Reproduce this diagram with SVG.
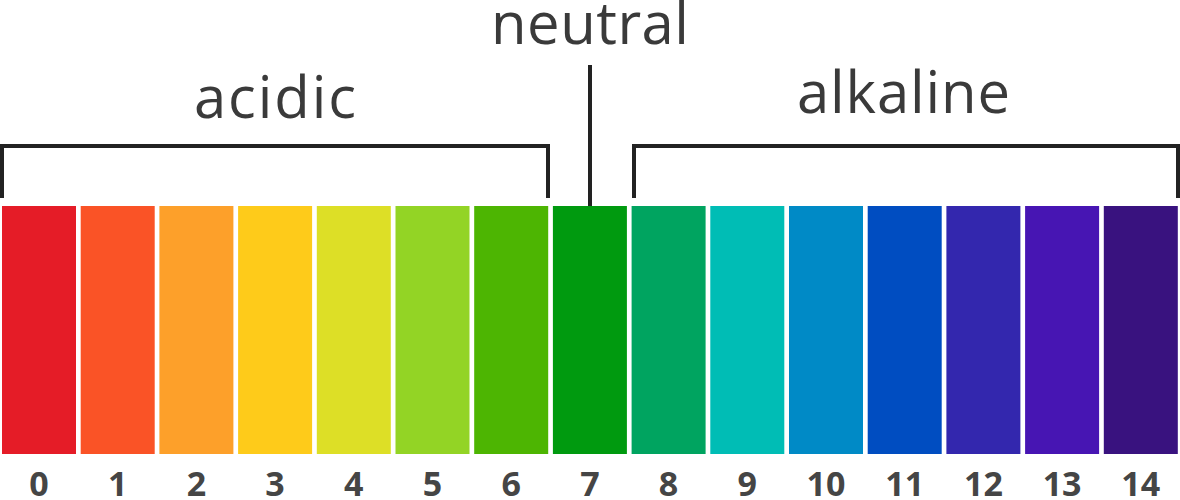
<svg xmlns="http://www.w3.org/2000/svg" width="1180" height="500" viewBox="0 0 1180 500">
<style>
.bar{stroke:none}
.lbl{font-family:"Open Sans","Liberation Sans",sans-serif;font-size:58px;fill:#3a3a3a}
.num{font-family:"Open Sans","Liberation Sans",sans-serif;font-size:34px;font-weight:bold;fill:#454545;text-anchor:middle}
.br{fill:none;stroke:#222;stroke-width:4;stroke-linecap:butt;stroke-linejoin:miter}
</style>
<rect width="1180" height="500" fill="#fff"/>
<g id="labels">
<text class="lbl" x="491" y="44" font-size="56" textLength="198">neutral</text>
<text class="lbl" x="194" y="118" textLength="162">acidic</text>
<text class="lbl" x="797" y="113" textLength="213">alkaline</text>
</g>
<g id="connectors">
<polyline class="br" points="2,198 2,146 548,146 548,198"/>
<line class="br" x1="590" y1="65" x2="590" y2="206"/>
<polyline class="br" points="634,198 634,146 1178,146 1178,198"/>
</g>
<g id="bar0"><rect class="bar" x="2" y="206" width="74" height="248" fill="#E51C27"/><text class="num" x="39" y="496">0</text></g>
<g id="bar1"><rect class="bar" x="80.7" y="206" width="74" height="248" fill="#FA5326"/><text class="num" x="117.7" y="496">1</text></g>
<g id="bar2"><rect class="bar" x="159.4" y="206" width="74" height="248" fill="#FDA02A"/><text class="num" x="196.4" y="496">2</text></g>
<g id="bar3"><rect class="bar" x="238.1" y="206" width="74" height="248" fill="#FECB1A"/><text class="num" x="275.1" y="496">3</text></g>
<g id="bar4"><rect class="bar" x="316.8" y="206" width="74" height="248" fill="#DDDF26"/><text class="num" x="353.8" y="496">4</text></g>
<g id="bar5"><rect class="bar" x="395.5" y="206" width="74" height="248" fill="#93D425"/><text class="num" x="432.5" y="496">5</text></g>
<g id="bar6"><rect class="bar" x="474.2" y="206" width="74" height="248" fill="#4DB502"/><text class="num" x="511.2" y="496">6</text></g>
<g id="bar7"><rect class="bar" x="552.9" y="206" width="74" height="248" fill="#009A0F"/><text class="num" x="589.9" y="496">7</text></g>
<g id="bar8"><rect class="bar" x="631.6" y="206" width="74" height="248" fill="#00A460"/><text class="num" x="668.6" y="496">8</text></g>
<g id="bar9"><rect class="bar" x="710.3" y="206" width="74" height="248" fill="#00BDB5"/><text class="num" x="747.3" y="496">9</text></g>
<g id="bar10"><rect class="bar" x="789" y="206" width="74" height="248" fill="#008AC6"/><text class="num" x="826" y="496">10</text></g>
<g id="bar11"><rect class="bar" x="867.7" y="206" width="74" height="248" fill="#004DC1"/><text class="num" x="904.7" y="496">11</text></g>
<g id="bar12"><rect class="bar" x="946.4" y="206" width="74" height="248" fill="#3327AE"/><text class="num" x="983.4" y="496">12</text></g>
<g id="bar13"><rect class="bar" x="1025.1" y="206" width="74" height="248" fill="#4715B3"/><text class="num" x="1062.1" y="496">13</text></g>
<g id="bar14"><rect class="bar" x="1103.8" y="206" width="74" height="248" fill="#39127F"/><text class="num" x="1140.8" y="496">14</text></g>
</svg>
